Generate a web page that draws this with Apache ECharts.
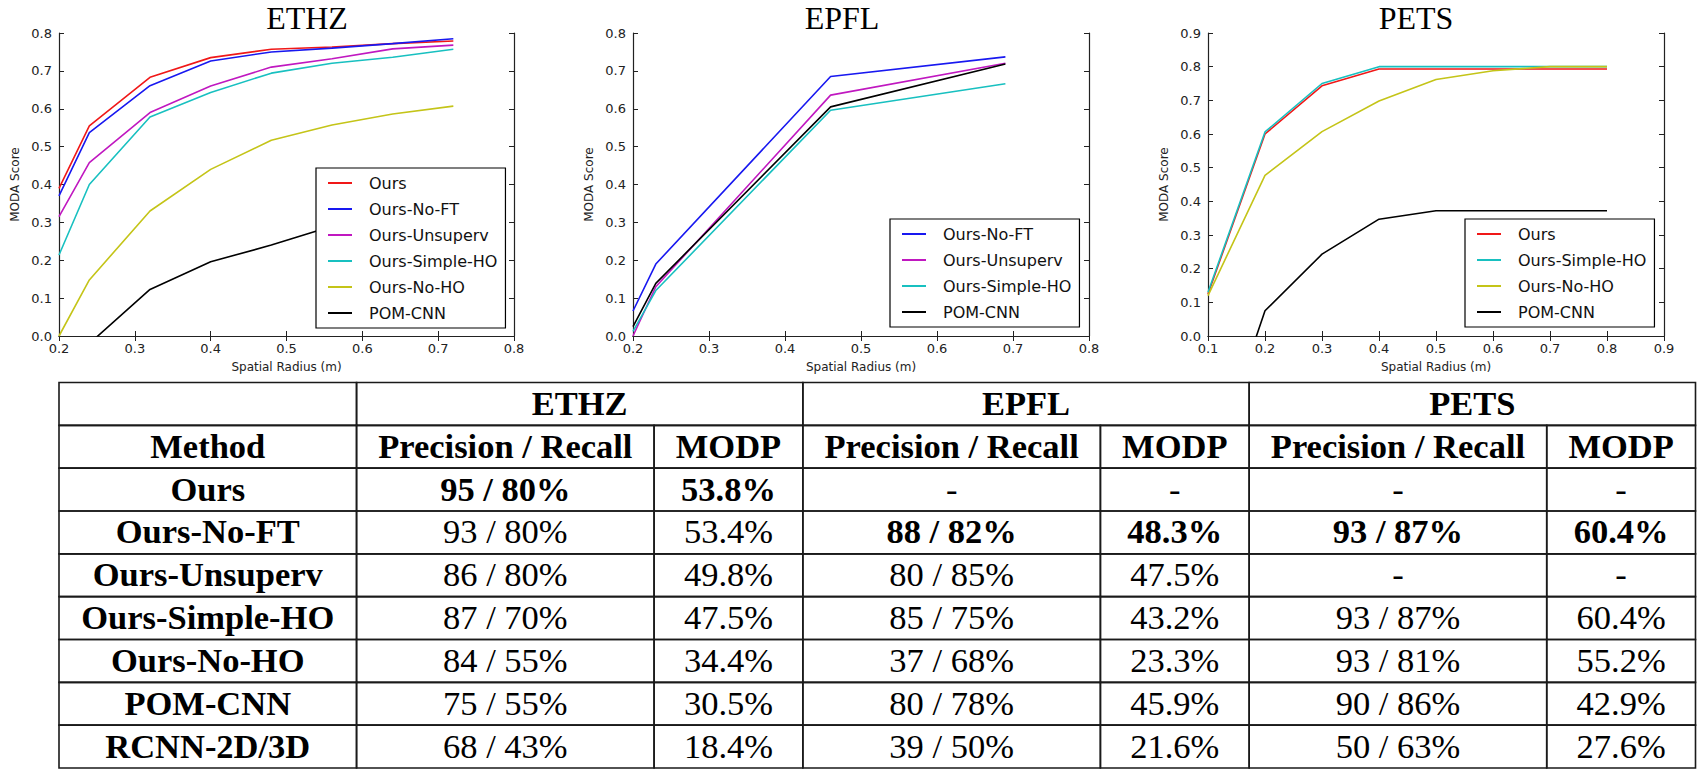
<!DOCTYPE html>
<html>
<head>
<meta charset="utf-8">
<script src="https://cdn.jsdelivr.net/npm/echarts@6/dist/echarts.min.js"></script>
<style>
html,body{margin:0;padding:0;background:#fff;}
#chart{width:1700px;height:771px;}
</style>
</head>
<body>
<div id="chart"></div>
<script>
// ---------------- DATA ----------------
// ETHZ panel
const ethzRadius   = [0.20, 0.24, 0.32, 0.40, 0.48, 0.56, 0.64, 0.72];
const ethzOurs     = [0.390, 0.555, 0.683, 0.735, 0.757, 0.763, 0.772, 0.779];
const ethzNoFT     = [0.370, 0.537, 0.661, 0.726, 0.750, 0.760, 0.772, 0.785];
const ethzUnsuperv = [0.315, 0.458, 0.590, 0.660, 0.710, 0.732, 0.758, 0.768];
const ethzSimpleHO = [0.214, 0.400, 0.578, 0.643, 0.694, 0.720, 0.736, 0.757];
const ethzNoHO     = [0.000, 0.148, 0.330, 0.440, 0.517, 0.557, 0.586, 0.607];
const ethzPomCnn   = [null, -0.020, 0.123, 0.196, 0.240, 0.290, 0.320, 0.345];

// EPFL panel
const epflRadius   = [0.20, 0.23, 0.46, 0.69];
const epflNoFT     = [0.066, 0.190, 0.685, 0.737];
const epflUnsuperv = [0.000, 0.130, 0.636, 0.720];
const epflSimpleHO = [0.012, 0.120, 0.596, 0.666];
const epflPomCnn   = [0.025, 0.139, 0.605, 0.718];

// PETS panel
const petsRadius   = [0.1, 0.2, 0.3, 0.4, 0.5, 0.6, 0.7, 0.8];
const petsOurs     = [0.125, 0.600, 0.743, 0.793, 0.793, 0.793, 0.793, 0.793];
const petsSimpleHO = [0.130, 0.606, 0.750, 0.800, 0.800, 0.800, 0.800, 0.800];
const petsNoHO     = [0.120, 0.477, 0.607, 0.698, 0.762, 0.788, 0.800, 0.800];
const petsPomCnn   = [-0.425, 0.075, 0.243, 0.347, 0.372, 0.372, 0.372, 0.372];

// Table
const datasets        = ['ETHZ', 'EPFL', 'PETS'];
const tableHeaderCols = ['Method', 'Precision / Recall', 'MODP'];
const tableMethods    = ['Ours', 'Ours-No-FT', 'Ours-Unsuperv', 'Ours-Simple-HO', 'Ours-No-HO', 'POM-CNN', 'RCNN-2D/3D'];
const ethzPrecision = [95, 93, 86, 87, 84, 75, 68];
const ethzRecall    = [80, 80, 80, 70, 55, 55, 43];
const ethzMODP      = [53.8, 53.4, 49.8, 47.5, 34.4, 30.5, 18.4];
const epflPrecision = [null, 88, 80, 85, 37, 80, 39];
const epflRecall    = [null, 82, 85, 75, 68, 78, 50];
const epflMODP      = [null, 48.3, 47.5, 43.2, 23.3, 45.9, 21.6];
const petsPrecision = [null, 93, null, 93, 93, 90, 50];
const petsRecall    = [null, 87, null, 87, 81, 86, 63];
const petsMODP      = [null, 60.4, null, 60.4, 55.2, 42.9, 27.6];
const bestMethod    = { ETHZ: 'Ours', EPFL: 'Ours-No-FT', PETS: 'Ours-No-FT' };

// ---------------- STYLE / LAYOUT ----------------
const methodColor = {
  'Ours': '#f01818',
  'Ours-No-FT': '#1818f0',
  'Ours-Unsuperv': '#c018c0',
  'Ours-Simple-HO': '#18c0c0',
  'Ours-No-HO': '#c4c418',
  'POM-CNN': '#000000'
};
const SANS = 'DejaVu Sans';
const SERIF = 'Liberation Serif';

const panels = [
  { title: 'ETHZ', titleX: 307, left: 59, width: 455, xmin: 0.2, xmax: 0.8, ymax: 0.8,
    legend: { left: 316, top: 168 },
    series: [['Ours', ethzRadius, ethzOurs], ['Ours-No-FT', ethzRadius, ethzNoFT],
             ['Ours-Unsuperv', ethzRadius, ethzUnsuperv], ['Ours-Simple-HO', ethzRadius, ethzSimpleHO],
             ['Ours-No-HO', ethzRadius, ethzNoHO], ['POM-CNN', ethzRadius, ethzPomCnn]] },
  { title: 'EPFL', titleX: 842, left: 633, width: 456, xmin: 0.2, xmax: 0.8, ymax: 0.8,
    legend: { left: 890, top: 219 },
    series: [['Ours-No-FT', epflRadius, epflNoFT], ['Ours-Unsuperv', epflRadius, epflUnsuperv],
             ['Ours-Simple-HO', epflRadius, epflSimpleHO], ['POM-CNN', epflRadius, epflPomCnn]] },
  { title: 'PETS', titleX: 1416, left: 1208, width: 456, xmin: 0.1, xmax: 0.9, ymax: 0.9,
    legend: { left: 1465, top: 219 },
    series: [['Ours', petsRadius, petsOurs], ['Ours-Simple-HO', petsRadius, petsSimpleHO],
             ['Ours-No-HO', petsRadius, petsNoHO], ['POM-CNN', petsRadius, petsPomCnn]] }
];

const frameColor = '#222';
const fmt1 = v => (Math.round(v * 10) / 10).toFixed(1);

const option = {
  backgroundColor: '#fff',
  animation: false,
  title: [], grid: [], xAxis: [], yAxis: [], legend: [], series: []
};

panels.forEach((p, i) => {
  option.title.push({
    text: p.title, left: p.titleX, top: 18, padding: 0,
    textAlign: 'center', textVerticalAlign: 'middle',
    textStyle: { fontFamily: SERIF, fontSize: 32, fontWeight: 'normal', color: '#000' }
  });
  option.grid.push({ left: p.left, top: 33, width: p.width, height: 303, containLabel: false });
  const g = option.grid.length - 1;
  const axisLine = { show: true, lineStyle: { color: frameColor, width: 1.2 } };
  const tick = { show: true, inside: true, length: 5, lineStyle: { color: frameColor, width: 1 } };
  // bottom x
  option.xAxis.push({
    type: 'value', gridIndex: g, position: 'bottom', min: p.xmin, max: p.xmax, interval: 0.1,
    axisLine, axisTick: tick, splitLine: { show: false },
    axisLabel: { show: true, margin: 6, formatter: fmt1, fontFamily: SANS, fontSize: 13, color: '#222' },
    name: 'Spatial Radius (m)', nameLocation: 'middle', nameGap: 25,
    nameTextStyle: { fontFamily: SANS, fontSize: 12, color: '#222' }
  });
  // top x (frame + ticks)
  option.xAxis.push({
    type: 'value', gridIndex: g, position: 'top', min: p.xmin, max: p.xmax, interval: 0.1,
    axisLine, axisTick: tick, splitLine: { show: false }, axisLabel: { show: false }
  });
  // left y
  option.yAxis.push({
    type: 'value', gridIndex: g, position: 'left', min: 0, max: p.ymax, interval: 0.1,
    axisLine, axisTick: tick, splitLine: { show: false },
    axisLabel: { show: true, margin: 7, formatter: fmt1, fontFamily: SANS, fontSize: 13, color: '#222' },
    name: 'MODA Score', nameLocation: 'middle', nameGap: 38,
    nameTextStyle: { fontFamily: SANS, fontSize: 12, color: '#222' }
  });
  // right y
  option.yAxis.push({
    type: 'value', gridIndex: g, position: 'right', min: 0, max: p.ymax, interval: 0.1,
    axisLine, axisTick: tick, splitLine: { show: false }, axisLabel: { show: false }
  });
  const xi = option.xAxis.length - 2, yi = option.yAxis.length - 2;
  p.series.forEach(([name, xs, ys]) => {
    option.series.push({
      type: 'line', name, xAxisIndex: xi, yAxisIndex: yi,
      data: xs.map((x, k) => [x, ys[k]]),
      symbol: 'none', clip: true, connectNulls: false,
      lineStyle: { color: methodColor[name], width: 1.6 },
      itemStyle: { color: methodColor[name] },
      emphasis: { disabled: true }, z: 2
    });
  });
  option.legend.push({
    left: p.legend.left, top: p.legend.top, orient: 'vertical',
    data: p.series.map(s => s[0]),
    icon: 'rect', itemWidth: 24, itemHeight: 2, itemGap: 10,
    padding: [7, 8, 7, 12],
    backgroundColor: '#fff', borderColor: '#000', borderWidth: 1.2, borderRadius: 0,
    selectedMode: false, z: 10,
    textStyle: { fontFamily: SANS, fontSize: 16, color: '#111', padding: [0, 0, 0, 12] }
  });
});

// ---------------- TABLE (custom series on a hidden value grid) ----------------
// column structure: Method(2) | PR(2) MODP(1) | PR(2) MODP(1) | PR(2) MODP(1)
const colEdges = [0, 2, 4, 5, 7, 8, 10, 11];
const tableCells = [];   // [c0, c1, row]
const tableTexts = [];   // {text, bold}
function addCell(c0, c1, r, text, bold) { tableCells.push([c0, c1, r]); tableTexts.push({ text, bold }); }

addCell(0, 2, 0, '', false);
datasets.forEach((d, k) => addCell(2 + 3 * k, 5 + 3 * k, 0, d, true));
addCell(0, 2, 1, tableHeaderCols[0], true);
datasets.forEach((d, k) => {
  addCell(colEdges[1 + 2 * k], colEdges[2 + 2 * k], 1, tableHeaderCols[1], true);
  addCell(colEdges[2 + 2 * k], colEdges[3 + 2 * k], 1, tableHeaderCols[2], true);
});
const prArrays = { ETHZ: [ethzPrecision, ethzRecall, ethzMODP], EPFL: [epflPrecision, epflRecall, epflMODP], PETS: [petsPrecision, petsRecall, petsMODP] };
tableMethods.forEach((m, r) => {
  const row = r + 2;
  addCell(0, 2, row, m, true);
  datasets.forEach((d, k) => {
    const [pr, rc, modp] = prArrays[d];
    const isBest = bestMethod[d] === m;
    const prText = pr[r] == null ? '-' : pr[r] + ' / ' + rc[r] + '%';
    const mdText = modp[r] == null ? '-' : modp[r].toFixed(1) + '%';
    addCell(colEdges[1 + 2 * k], colEdges[2 + 2 * k], row, prText, isBest && pr[r] != null);
    addCell(colEdges[2 + 2 * k], colEdges[3 + 2 * k], row, mdText, isBest && modp[r] != null);
  });
});

option.grid.push({ left: 59, top: 382.5, width: 1636.5, height: 385.5, containLabel: false });
const tg = option.grid.length - 1;
option.xAxis.push({ type: 'value', gridIndex: tg, min: 0, max: 11, show: false });
option.yAxis.push({ type: 'value', gridIndex: tg, min: 0, max: 9, inverse: true, show: false });
const txi = option.xAxis.length - 1, tyi = option.yAxis.length - 1;

option.series.push({
  type: 'custom', name: 'table', xAxisIndex: txi, yAxisIndex: tyi,
  data: tableCells, encode: { x: [0, 1], y: 2 }, silent: true, clip: false,
  renderItem: function (params, api) {
    const c0 = api.value(0), c1 = api.value(1), r = api.value(2);
    const a = api.coord([c0, r]), b = api.coord([c1, r + 1]);
    const t = tableTexts[params.dataIndex];
    return {
      type: 'group',
      children: [
        { type: 'rect', shape: { x: a[0], y: a[1], width: b[0] - a[0], height: b[1] - a[1] },
          style: { fill: 'none', stroke: '#1a1a1a', lineWidth: 1.6 } },
        { type: 'text',
          style: { text: t.text, x: (a[0] + b[0]) / 2, y: (a[1] + b[1]) / 2 - 1,
                   align: 'center', verticalAlign: 'middle',
                   fontFamily: SERIF, fontSize: 34.5, fontWeight: t.bold ? 'bold' : 'normal', fill: '#000' } }
      ]
    };
  }
});

const chart = echarts.init(document.getElementById('chart'), null, { renderer: 'svg', width: 1700, height: 771 });
chart.setOption(option);
</script>
</body>
</html>
